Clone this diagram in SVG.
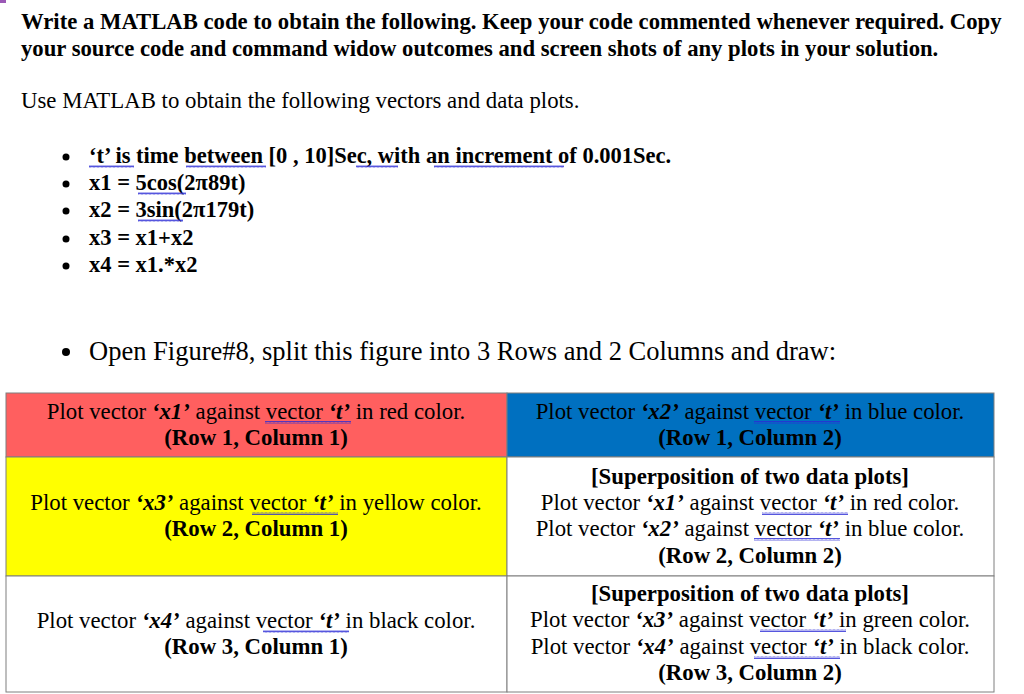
<svg xmlns="http://www.w3.org/2000/svg" width="1024" height="694" viewBox="0 0 1024 694">
<style>
text{font-family:"Liberation Serif","Times New Roman",serif;fill:#000}
.b{font-weight:bold}
.t{font-size:22.7px;font-weight:bold}
.li{font-size:22.5px;font-weight:bold}
.c{font-size:22.8px;text-anchor:middle}
.cell{stroke:#7f7f7f;stroke-width:1}
.w{fill:url(#wave)}
</style>
<defs>
<pattern id="wave" width="4" height="3" patternUnits="userSpaceOnUse"><path d="M0 2.5 L1 0.5 L2 2.5 L3 0.5 L4 2.5" fill="none" stroke="#2b2bd6" stroke-width="0.8"/></pattern>
</defs>
<rect width="1024" height="694" fill="#fff"/>
<rect x="0" y="0" width="6" height="3" fill="#9b59b6"/>
<text class="t" x="21" y="29">Write a MATLAB code to obtain the following. Keep your code commented whenever required. Copy</text>
<text class="t" x="21" y="56">your source code and command widow outcomes and screen shots of any plots in your solution.</text>
<text x="21" y="108" font-size="22.8">Use MATLAB to obtain the following vectors and data plots.</text>
<circle cx="66" cy="157" r="3.5"/><circle cx="66" cy="184" r="3.5"/><circle cx="66" cy="211" r="3.5"/><circle cx="66" cy="239" r="3.5"/><circle cx="66" cy="266" r="3.5"/>
<text class="li" x="89" y="163">‘t’ is time between [0 , 10]Sec, with an increment of 0.001Sec.</text>
<text class="li" x="89" y="190">x1 = 5cos(2π89t)</text>
<text class="li" x="89" y="217">x2 = 3sin(2π179t)</text>
<text class="li" x="89" y="245">x3 = x1+x2</text>
<text class="li" x="89" y="272">x4 = x1.*x2</text>
<rect class="w" x="89" y="165" width="45" height="3"/><rect class="w" x="186" y="165" width="80" height="3"/><rect class="w" x="356" y="165" width="42" height="3"/><rect class="w" x="434" y="165" width="130" height="3"/>
<rect class="w" x="138" y="192" width="48" height="3"/><rect class="w" x="138" y="219" width="45" height="3"/>
<circle cx="66" cy="352" r="4"/>
<text x="89" y="360" font-size="26.5">Open Figure#8, split this figure into 3 Rows and 2 Columns and draw:</text>
<g id="r1c1"><rect class="cell" x="6" y="393" width="501" height="64" fill="#ff5f5f"/>
<text class="c" x="256" y="419">Plot vector <tspan class="b" font-style="italic">‘x1’</tspan> against vector <tspan class="b" font-style="italic">‘t’</tspan> in red color.</text>
<text class="c b" x="256" y="445">(Row 1, Column 1)</text></g>
<g id="r1c2"><rect class="cell" x="507" y="393" width="487" height="64" fill="#0070c0"/>
<text class="c" x="750" y="419">Plot vector <tspan class="b" font-style="italic">‘x2’</tspan> against vector <tspan class="b" font-style="italic">‘t’</tspan> in blue color.</text>
<text class="c b" x="750" y="445">(Row 1, Column 2)</text></g>
<g id="r2c1"><rect class="cell" x="6" y="457" width="501" height="119" fill="#ffff00"/>
<text class="c" x="256" y="510">Plot vector <tspan class="b" font-style="italic">‘x3’</tspan> against vector <tspan class="b" font-style="italic">‘t’</tspan> in yellow color.</text>
<text class="c b" x="256" y="536">(Row 2, Column 1)</text></g>
<g id="r2c2"><rect class="cell" x="507" y="457" width="487" height="119" fill="#fff"/>
<text class="c b" x="750" y="484">[Superposition of two data plots]</text>
<text class="c" x="750" y="510">Plot vector <tspan class="b" font-style="italic">‘x1’</tspan> against vector <tspan class="b" font-style="italic">‘t’</tspan> in red color.</text>
<text class="c" x="750" y="536">Plot vector <tspan class="b" font-style="italic">‘x2’</tspan> against vector <tspan class="b" font-style="italic">‘t’</tspan> in blue color.</text>
<text class="c b" x="750" y="563">(Row 2, Column 2)</text></g>
<g id="r3c1"><rect class="cell" x="6" y="576" width="501" height="116" fill="#fff"/>
<text class="c" x="256" y="628">Plot vector <tspan class="b" font-style="italic">‘x4’</tspan> against vector <tspan class="b" font-style="italic">‘t’</tspan> in black color.</text>
<text class="c b" x="256" y="654">(Row 3, Column 1)</text></g>
<g id="r3c2"><rect class="cell" x="507" y="576" width="487" height="116" fill="#fff"/>
<text class="c b" x="750" y="601">[Superposition of two data plots]</text>
<text class="c" x="750" y="627">Plot vector <tspan class="b" font-style="italic">‘x3’</tspan> against vector <tspan class="b" font-style="italic">‘t’</tspan> in green color.</text>
<text class="c" x="750" y="654">Plot vector <tspan class="b" font-style="italic">‘x4’</tspan> against vector <tspan class="b" font-style="italic">‘t’</tspan> in black color.</text>
<text class="c b" x="750" y="680">(Row 3, Column 2)</text></g>
<rect class="w" x="265" y="421" width="86" height="3"/><rect class="w" x="252" y="512" width="86" height="3"/><rect class="w" x="263" y="630" width="86" height="3"/>
<rect class="w" x="754" y="421" width="86" height="3"/><rect class="w" x="762" y="512" width="86" height="3"/><rect class="w" x="754" y="538" width="86" height="3"/>
<rect class="w" x="760" y="629" width="86" height="3"/><rect class="w" x="754" y="656" width="86" height="3"/>
</svg>
